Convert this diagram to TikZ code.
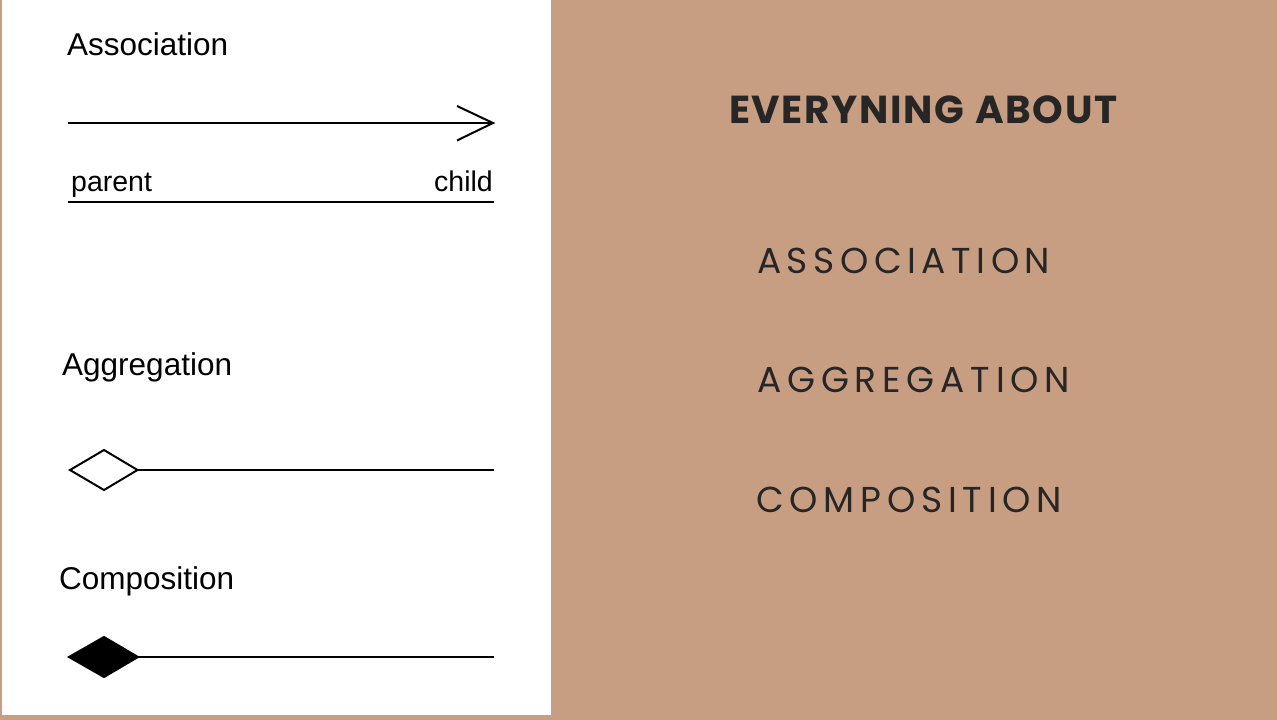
\documentclass[tikz,border=0pt]{standalone}
\usepackage{fontspec}
\setmainfont{Liberation Sans}
\newfontfamily\geo{Poppins}
\definecolor{bgbrown}{HTML}{C89E83}
\definecolor{inkdark}{HTML}{262626}
\newcommand{\spreadtext}[2]{\makebox[#1][s]{#2}}
\begin{document}
\begin{tikzpicture}[x=1pt,y=-1pt,
  lbl/.style={anchor=base west,inner sep=0pt,font=\fontsize{31.5}{31.5}\selectfont},
  small/.style={inner sep=0pt,font=\fontsize{28.5}{28.5}\selectfont},
  rtitle/.style={anchor=base west,inner sep=0pt,text=inkdark,font=\geo\bfseries\fontsize{39}{39}\selectfont},
  ritem/.style={anchor=base west,inner sep=0pt,text=inkdark,font=\geo\fontsize{36}{36}\selectfont},
  conn/.style={line width=2pt,black},
  dia/.style={line width=2pt,line join=miter}]
\useasboundingbox (0,0) rectangle (1277,720);
\fill[bgbrown] (0,0) rectangle (1277,720);
\fill[white] (2,0) rectangle (551,715);
% Association
\node[lbl] (assoc) at (67,55) {Association};
\coordinate (a1) at (68,123);
\coordinate (a2) at (493,123);
\coordinate (ah1) at (457,106);
\coordinate (ah2) at (457,140.5);
\draw[conn] (a1) -- (a2);
\draw[conn,line join=miter] (ah1) -- (a2) -- (ah2);
\node[small,anchor=base west] (par) at (71,191) {parent};
\node[small,anchor=base east] (chi) at (493,191) {child};
\coordinate (u1) at (68,202);
\coordinate (u2) at (494,202);
\draw[conn] (u1) -- (u2);
% Aggregation
\node[lbl] (aggr) at (62,375) {Aggregation};
\coordinate (gl) at (70,470);
\coordinate (gt) at (104,450);
\coordinate (gr) at (137.5,470);
\coordinate (gb) at (104,490);
\coordinate (ge) at (494,470);
\draw[dia,fill=white] (gl) -- (gt) -- (gr) -- (gb) -- cycle;
\draw[conn] (gr) -- (ge);
% Composition
\node[lbl] (comp) at (59,589) {Composition};
\coordinate (cl) at (69,657);
\coordinate (ct) at (104,637);
\coordinate (cr) at (138,657);
\coordinate (cb) at (104,677);
\coordinate (ce) at (494,657);
\draw[dia,fill=black] (cl) -- (ct) -- (cr) -- (cb) -- cycle;
\draw[conn] (cr) -- (ce);
% Right panel
\node[rtitle] (title) at (729,123) {\spreadtext{388pt}{E\hfil V\hfil E\hfil R\hfil Y\hfil N\hfil I\hfil N\hfil G\hfil\ \hfil A\hfil B\hfil O\hfil U\hfil T}};
\node[ritem] (r1) at (757,273) {\spreadtext{293pt}{A\hfill S\hfill S\hfill O\hfill C\hfill I\hfill A\hfill T\hfill I\hfill O\hfill N}};
\node[ritem] (r2) at (757,392) {\spreadtext{313pt}{A\hfill G\hfill G\hfill R\hfill E\hfill G\hfill A\hfill T\hfill I\hfill O\hfill N}};
\node[ritem] (r3) at (756,512) {\spreadtext{306pt}{C\hfill O\hfill M\hfill P\hfill O\hfill S\hfill I\hfill T\hfill I\hfill O\hfill N}};
\end{tikzpicture}
\end{document}
